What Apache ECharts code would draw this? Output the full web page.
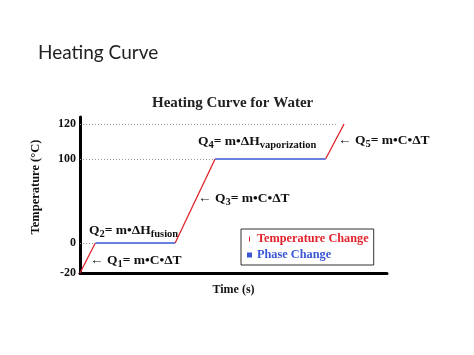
<!DOCTYPE html>
<html><head><meta charset="utf-8">
<script src="https://cdn.jsdelivr.net/npm/echarts@6/dist/echarts.min.js"></script>
<style>html,body{margin:0;padding:0;background:#fff}#c{width:474px;height:355px}</style>
</head><body><div id="c"></div>
<script>
// ---- data ----
const timeVals = [0, 5, 31, 44, 80, 86];            // time (arbitrary units)
const tempVals = [-20, 0, 0, 100, 100, 120];        // temperature (°C)
const yTickLabels = [-20, 0, 100, 120];
const seriesNames = ['Temperature Change', 'Phase Change'];
const pageTitle = 'Heating Curve';
const chartTitle = 'Heating Curve for Water';
const yName = 'Temperature (\u00B0C)';
const xName = 'Time (s)';

// ---- layout: the original axis is not to scale; piecewise axis units ----
const yTickPos = [0, 30, 114, 149];
const Y_MAX = 156, X_MAX = 100;
function yScale(t){
  for (let i=0;i<yTickLabels.length-1;i++){
    const a=yTickLabels[i], b=yTickLabels[i+1];
    if (t>=a && t<=b) return yTickPos[i] + (t-a)/(b-a)*(yTickPos[i+1]-yTickPos[i]);
  }
  return t < yTickLabels[0] ? yTickPos[0] : yTickPos[yTickPos.length-1];
}
const RED = '#e3232b', BLUE = '#3a57d6';
const SERIF = '"Liberation Serif", "DejaVu Serif", serif';

const redData = [], blueData = [];
for (let i=0;i<timeVals.length-1;i++){
  const p0=[timeVals[i], yScale(tempVals[i])], p1=[timeVals[i+1], yScale(tempVals[i+1])];
  const arr = tempVals[i]===tempVals[i+1] ? blueData : redData;
  if (arr.length) arr.push(null);
  arr.push(p0, p1);
}
// dotted reference lines from the axis to where the curve reaches each tick temp
const refLines = [];
yTickLabels.forEach(T=>{
  const idx = tempVals.indexOf(T);
  if (T>yTickLabels[0] && idx>=0) refLines.push([{coord:[0,yScale(T)]},{coord:[timeVals[idx]-(idx===tempVals.length-1?2:0),yScale(T)]}]);
});

const chart = echarts.init(document.getElementById('c'));
const main = {fontFamily:SERIF, fontWeight:'bold', fontSize:13.5, fill:'#111', lineHeight:18, verticalAlign:'middle'};
const sub = {fontFamily:SERIF, fontWeight:'bold', fontSize:10.5, fill:'#111', lineHeight:10, verticalAlign:'bottom'};
function ann(x,y,text){
  return {type:'text', x:x, y:y, style:{text:text, rich:{a:main,s:sub}, verticalAlign:'middle', align:'left'}};
}
chart.setOption({
  animation:false,
  title:{text:chartTitle, left:147, top:91, textStyle:{fontFamily:SERIF, fontWeight:'bold', fontSize:15, color:'#222'}},
  grid:{left:80, right:87, top:117, bottom:82},
  xAxis:{type:'value', min:0, max:X_MAX, name:xName, nameLocation:'middle', nameGap:11,
    nameTextStyle:{fontFamily:SERIF, fontWeight:'bold', fontSize:12, color:'#111'},
    axisLine:{show:true, lineStyle:{color:'#000', width:3}}, axisTick:{show:false}, axisLabel:{show:false}, splitLine:{show:false}},
  yAxis:{type:'value', min:0, max:Y_MAX, name:yName, nameLocation:'middle', nameGap:38, nameRotate:90,
    nameTextStyle:{fontFamily:SERIF, fontWeight:'bold', fontSize:12.5, color:'#111', padding:[0,0,0,16]},
    axisLine:{show:true, lineStyle:{color:'#000', width:3}}, axisTick:{show:false}, splitLine:{show:false},
    axisLabel:{customValues: yTickLabels.map(yScale), margin:4,
      formatter:v=>{const i=yTickPos.findIndex(p=>Math.abs(p-v)<0.01); return i>=0?String(yTickLabels[i]):'';},
      fontFamily:SERIF, fontWeight:'bold', fontSize:12, color:'#111'}},
  legend:{orient:'vertical', left:241, top:229, padding:[4,5,4,6], itemGap:4, itemWidth:5, itemHeight:5,
    borderColor:'#333', borderWidth:1, backgroundColor:'#fff',
    textStyle:{fontFamily:SERIF, fontWeight:'bold', fontSize:12.3},
    data:[{name:seriesNames[0], icon:'path://M2,0h1v5h-1z', textStyle:{color:RED}},
          {name:seriesNames[1], icon:'rect', textStyle:{color:BLUE}}]},
  series:[
    {name:seriesNames[0], type:'line', data:redData, symbol:'none', connectNulls:false, lineStyle:{color:RED, width:1.3}, itemStyle:{color:RED},
     markLine:{silent:true, symbol:'none', label:{show:false}, lineStyle:{color:'#999', type:[1,2], width:1}, data:refLines}},
    {name:seriesNames[1], type:'line', data:blueData, symbol:'none', connectNulls:false, lineStyle:{color:BLUE, width:1.5}, itemStyle:{color:BLUE}}
  ],
  graphic:[
    {type:'text', x:38, y:53, style:{text:pageTitle, fontFamily:'Lato', fontWeight:'normal', fontSize:19, fill:'#222', verticalAlign:'middle'}},
    ann(89,231,'{a|Q}{s|2}{a|= m\u2022\u0394H}{s|fusion}'),
    ann(90,261,'{a|\u2190 Q}{s|1}{a|= m\u2022C\u2022\u0394T}'),
    ann(198,199,'{a|\u2190 Q}{s|3}{a|= m\u2022C\u2022\u0394T}'),
    ann(198,142,'{a|Q}{s|4}{a|= m\u2022\u0394H}{s|vaporization}'),
    ann(338,141,'{a|\u2190 Q}{s|5}{a|= m\u2022C\u2022\u0394T}')
  ]
});
</script></body></html>
